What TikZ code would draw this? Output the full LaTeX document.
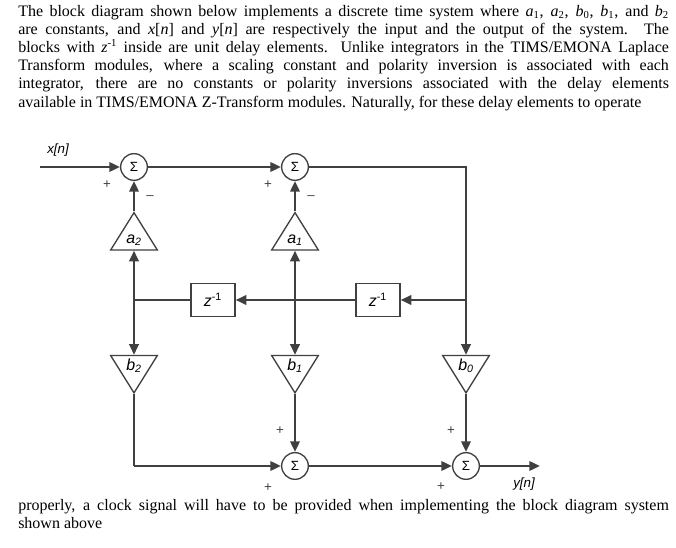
\documentclass[tikz,border=0pt]{standalone}
\usepackage{fontspec}
\setmainfont{Liberation Serif}
\newfontfamily\dsans{Liberation Sans}
\newcommand{\vv}[2]{\textit{#1}\textsubscript{#2}}
\usetikzlibrary{shapes.geometric,arrows.meta}
\begin{document}
\begin{tikzpicture}[x=0.75pt,y=-0.75pt,
  wire/.style={draw=black!75,line width=1.8pt},
  arr/.style={wire,-{Triangle[length=8pt,width=7pt]}},
  sumnode/.style={circle,draw=black!75,line width=1pt,minimum size=20pt,inner sep=0pt,font=\dsans},
  delay/.style={rectangle,draw=black!75,line width=1pt,minimum width=33pt,minimum height=25pt,font=\dsans\large},
  gup/.style={isosceles triangle,isosceles triangle apex angle=64,shape border rotate=90,draw=black!75,line width=1pt,inner sep=1pt,minimum height=28pt,font=\dsans\itshape\large},
  gdown/.style={gup,shape border rotate=270},
  sg/.style={font=\dsans,text=black!75},
  para/.style={anchor=north west,text width=488pt,align=justify,font=\fontsize{12pt}{13.6pt}\selectfont,inner sep=0pt}]
\useasboundingbox (0,0) rectangle (676,548);
\fill[white] (0,0) rectangle (676,548);
\node[para] (t1) at (18,5) {The block diagram shown below implements a discrete time system where \vv{a}{1}, \vv{a}{2}, \vv{b}{0}, \vv{b}{1}, and \vv{b}{2}\linebreak
are constants, and \textit{x}[\textit{n}] and \textit{y}[\textit{n}] are respectively the input and the output of the system. The\linebreak
blocks with \textit{z}\textsuperscript{-1} inside are unit delay elements. Unlike integrators in the TIMS/EMONA Laplace\linebreak
Transform modules, where a scaling constant and polarity inversion is associated with each\linebreak
integrator, there are no constants or polarity inversions associated with the delay elements\linebreak
available in TIMS/EMONA Z-Transform modules. Naturally, for these delay elements to operate};
\node[para] (t2) at (18,499) {properly, a clock signal will have to be provided when implementing the block diagram system\linebreak
shown above};
% nodes
\coordinate (xin) at (40,167);
\node[sumnode] (s1) at (134,167) {Σ};
\node[sumnode] (s2) at (295,167) {Σ};
\coordinate (rc) at (466,167);
\node[gup] (a2) at (134,240) {a\textsubscript{2}};
\node[gup] (a1) at (295,240) {a\textsubscript{1}};
\node[delay] (d1) at (213,300) {\textit{z}\textsuperscript{-1}};
\node[delay] (d2) at (378,300) {\textit{z}\textsuperscript{-1}};
\coordinate (j1) at (134,300);
\coordinate (j2) at (295,300);
\coordinate (j3) at (466,300);
\node[gdown] (b2) at (134,366) {b\textsubscript{2}};
\node[gdown] (b1) at (295,366) {b\textsubscript{1}};
\node[gdown] (b0) at (466,366) {b\textsubscript{0}};
\node[sumnode] (s3) at (295,466) {Σ};
\node[sumnode] (s4) at (466,466) {Σ};
\coordinate (bl) at (134,466);
\coordinate (yout) at (540,466);
\node[font=\dsans\itshape] (xl) at (58,150) {x[n]};
\node[font=\dsans\itshape] (yl) at (524,484) {y[n]};
% wires
\draw[arr] (xin) -- (s1);
\draw[arr] (s1) -- (s2);
\draw[wire] (s2) -- (rc) -- (j3);
\draw[arr] (j3) -- (b0.north);
\draw[arr] (j3) -- (d2);
\draw[wire] (d2) -- (j2);
\draw[arr] (j2) -- (d1);
\draw[wire] (d1) -- (j1);
\draw[arr] (j1) -- (a2.south);
\draw[arr] (a2.apex) -- (s1);
\draw[arr] (j2) -- (a1.south);
\draw[arr] (a1.apex) -- (s2);
\draw[arr] (j1) -- (b2.north);
\draw[arr] (j2) -- (b1.north);
\draw[wire] (b2.apex) -- (bl);
\draw[arr] (bl) -- (s3);
\draw[arr] (b1.apex) -- (s3);
\draw[arr] (s3) -- (s4);
\draw[arr] (b0.apex) -- (s4);
\draw[arr] (s4) -- (yout);
% signs
\node[sg] (p1) at (107,185) {+};
\node[sg] (m1) at (150,198) {–};
\node[sg] (p2) at (268,185) {+};
\node[sg] (m2) at (311,198) {–};
\node[sg] (p3) at (280,431) {+};
\node[sg] (p4) at (268,488) {+};
\node[sg] (p5) at (451,431) {+};
\node[sg] (p6) at (441,487) {+};
\end{tikzpicture}
\end{document}
